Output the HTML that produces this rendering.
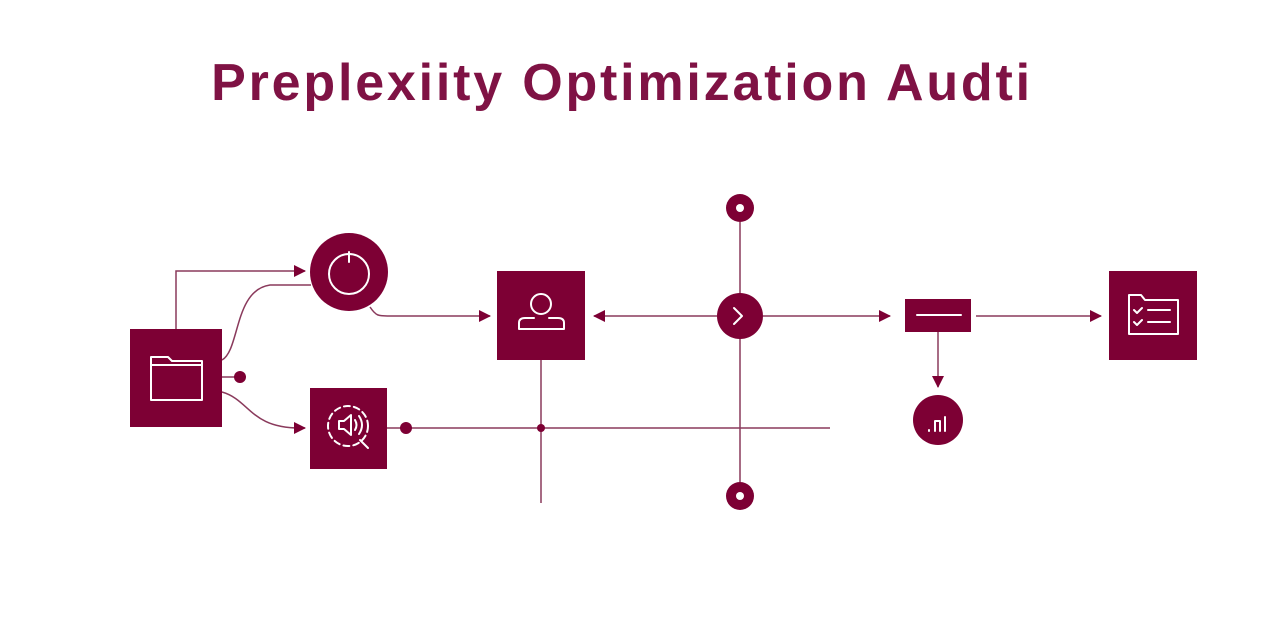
<!DOCTYPE html>
<html><head><meta charset="utf-8"><style>
html,body{margin:0;padding:0;background:#fff;}
svg{display:block;}
</style></head><body>
<svg width="1280" height="640" viewBox="0 0 1280 640" xmlns="http://www.w3.org/2000/svg">
<defs>
<marker id="a" markerWidth="12" markerHeight="12" refX="11" refY="6" orient="auto" markerUnits="userSpaceOnUse">
<path d="M0,0 L12,6 L0,12 Z" fill="#7d0034"/></marker>
</defs>
<rect width="1280" height="640" fill="#fff"/>
<text x="622" y="100" text-anchor="middle" font-family="Liberation Sans, sans-serif" font-weight="bold" font-size="52" fill="#7f1244" letter-spacing="2.8">Preplexiity Optimization Audti</text>
<g stroke="#8a3a5c" stroke-width="1.5" fill="none">
<path d="M176,329 V271 H305" marker-end="url(#a)"/>
<path d="M222,360 C240,350 234,290 270,285 H311"/>
<path d="M222,392 C250,400 250,428 300,428 H305" marker-end="url(#a)"/>
<path d="M222,377 H240"/>
<path d="M370,307 C376,316 378,316 390,316 H490" marker-end="url(#a)"/>
<path d="M387,428 H830"/>
<path d="M541,360 V503"/>
<path d="M717,316 H594" marker-end="url(#a)"/>
<path d="M763,316 H890" marker-end="url(#a)"/>
<path d="M740,222 V482"/>
<path d="M976,316 H1101" marker-end="url(#a)"/>
<path d="M938,332 V387" marker-end="url(#a)"/>
</g>
<g fill="#7d0034">
<rect x="130" y="329" width="92" height="98"/>
<circle cx="349" cy="272" r="39"/>
<rect x="497" y="271" width="88" height="89"/>
<rect x="310" y="388" width="77" height="81"/>
<circle cx="740" cy="316" r="23"/>
<circle cx="740" cy="208" r="14"/>
<circle cx="740" cy="496" r="14"/>
<rect x="905" y="299" width="66" height="33"/>
<circle cx="938" cy="420" r="25"/>
<rect x="1109" y="271" width="88" height="89"/>
<circle cx="240" cy="377" r="6"/>
<circle cx="406" cy="428" r="6"/>
<circle cx="541" cy="428" r="4"/>
</g>
<circle cx="740" cy="208" r="4" fill="#fff"/>
<circle cx="740" cy="496" r="4" fill="#fff"/>
<g stroke="#fff" stroke-width="2" fill="none" stroke-linecap="round" stroke-linejoin="round">
<path d="M151,357 h17 l4,4 h30 v39 h-51 z M151,365 h51"/>
<circle cx="349" cy="274" r="20"/>
<path d="M349,252 v10"/>
<circle cx="541" cy="304" r="10"/>
<path d="M519,329 v-6 q0,-5 6,-5 h9 M549,318 h9 q6,0 6,5 v6 h-45"/>
<circle cx="348" cy="426" r="20" stroke-dasharray="6 4"/>
<path d="M339,421 h5 l7,-6 v20 l-7,-6 h-5 z M355,420 q3,5 0,10 M359,416 q6,9 0,18 M360,440 l8,8"/>
<path d="M734,308 l8,8 l-8,8"/>
<path d="M917,315 h44"/>
<path d="M929,430 v1 M935,431 v-10 h5 v10 M945,431 v-14"/>
<path d="M1129,295 h12 l4,5 h33 v34 h-49 z"/>
<path d="M1134,310 l3,3 l5,-5 M1134,322 l3,3 l5,-5 M1148,310 h22 M1148,322 h22"/>
</g>
</svg>
</body></html>
